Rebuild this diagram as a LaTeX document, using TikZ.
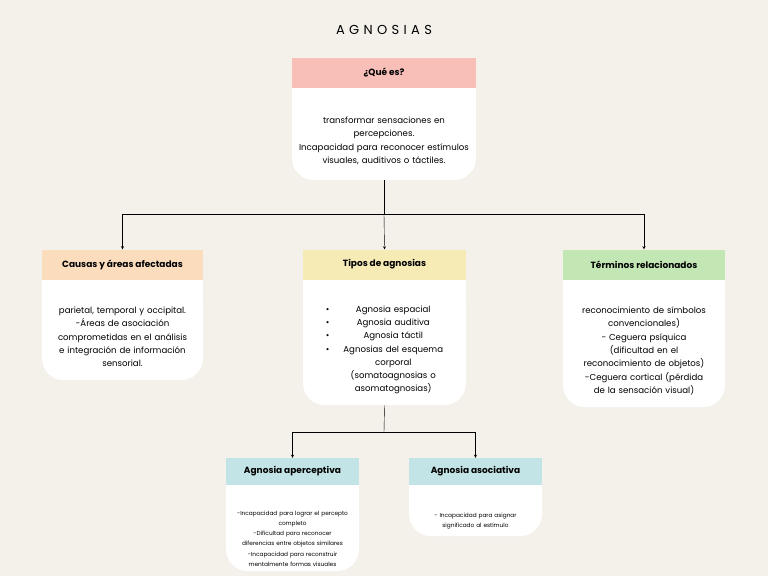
\documentclass[tikz,border=0pt]{standalone}
\usepackage{fontspec}
\setmainfont{Poppins}
\usetikzlibrary{positioning}
\usetikzlibrary{calc}
\definecolor{bgcol}{RGB}{244,240,234}
\definecolor{mpink}{RGB}{248,190,184}
\definecolor{morange}{RGB}{251,221,190}
\definecolor{myellow}{RGB}{247,235,181}
\definecolor{mgreen}{RGB}{194,230,180}
\definecolor{mcyan}{RGB}{195,228,230}
\tikzset{head/.style={minimum height=30pt, inner sep=0pt, font=\fontsize{9}{10}\selectfont\bfseries},
  body/.style={fill=white, rounded corners=22pt, anchor=north, align=center, inner sep=2pt,
    font=\fontsize{8.6}{13.3}\selectfont},
  small/.style={body, font=\fontsize{5.8}{10.3}\selectfont},
  arrow/.style={-stealth, thin}}
\newcommand{\squaretop}[1]{\fill[white] (#1.north west) rectangle ($(#1.north east)+(0,-25pt)$);}
\begin{document}
\begin{tikzpicture}[x=1pt,y=-1pt]
\fill[bgcol] (0,0) rectangle (768,576);
\useasboundingbox (0,0) rectangle (768,576);

\node[font=\fontsize{13}{15}\selectfont] (title) at (384,30) {A\,\,G\,\,N\,\,O\,\,S\,\,I\,\,A\,\,S};

% que es
\node[body, minimum width=184pt, minimum height=92pt, text width=180pt] (qbody) at (384,88) {P\'erdida de la capacidad para\\transformar sensaciones en\\percepciones.\\Incapacidad para reconocer est\'imulos\\visuales, auditivos o t\'actiles.\\[18pt]};
\squaretop{qbody}
\node[head, fill=mpink, minimum width=184pt] (qhead) at (384,73) {¿Qué es?};

% tres columnas
\node[body, minimum width=161pt, minimum height=100pt, text width=157pt] (cbody) at (122.5,280) {-Lesiones en la corteza\\parietal, temporal y occipital.\\-\'Areas de asociaci\'on\\comprometidas en el an\'alisis\\e integraci\'on de informaci\'on\\sensorial.\\[14pt]};
\squaretop{cbody}
\node[head, fill=morange, minimum width=161pt] (chead) at (122.5,264.5) {Causas y áreas afectadas};

\node[body, minimum width=163pt, minimum height=125pt, text width=159pt] (tbody) at (384.5,280) {\begin{tabular}{@{}l@{\hspace{14pt}}c@{}}
\textbullet & Agnosia visual\\
\textbullet & Agnosia espacial\\
\textbullet & Agnosia auditiva\\
\textbullet & Agnosia t\'actil\\
\textbullet & Agnosias del esquema\\
 & corporal\\
 & (somatoagnosias o\\
 & asomatognosias)
\end{tabular}\\[14pt]};
\squaretop{tbody}
\node[head, fill=myellow, minimum width=163pt] (thead) at (384.5,264.5) {Tipos de agnosias};

\node[body, minimum width=162pt, minimum height=127pt, text width=158pt] (rbody) at (644,280) {- Asimbolia (dificultad en el\\reconocimiento de s\'imbolos\\convencionales)\\- Ceguera ps\'iquica\\(dificultad en el\\reconocimiento de objetos)\\-Ceguera cortical (p\'erdida\\de la sensaci\'on visual)\\[12pt]};
\squaretop{rbody}
\node[head, fill=mgreen, minimum width=162pt] (rhead) at (644,264.5) {Términos relacionados};

% subtipos
\node[small, minimum width=133pt, minimum height=86pt, text width=129pt] (abody) at (292.5,485) {-Defecto b\'asico en la percepci\'on\\visual\\-Incapacidad para lograr el percepto\\completo\\-Dificultad para reconocer\\diferencias entre objetos similares\\-Incapacidad para reconstruir\\mentalmente formas visuales};
\squaretop{abody}
\node[head, fill=mcyan, minimum width=133pt, minimum height=27pt] (ahead) at (292.5,471.5) {Agnosia aperceptiva};

\node[small, minimum width=133pt, minimum height=51pt, text width=129pt] (sbody) at (475.5,485) {- Percepci\'on de formas pero\\incapacidad para interpretarlas\\- Incapacidad para asignar\\significado al est\'imulo\\[8pt]};
\squaretop{sbody}
\node[head, fill=mcyan, minimum width=133pt, minimum height=27pt] (shead) at (475.5,471.5) {Agnosia asociativa};

% conectores
\coordinate (q1) at (384,214);
\coordinate (t1) at (384,432);
\draw (qbody.south) -- (q1);
\draw[arrow] (q1) -| (chead.north);
\draw[arrow] (q1) -| (rhead.north);
\draw[arrow] (q1) -- (thead.north);
\draw (tbody.south) -- (t1);
\draw[arrow] (t1) -| (ahead.north);
\draw[arrow] (t1) -| (shead.north);
\end{tikzpicture}
\end{document}
